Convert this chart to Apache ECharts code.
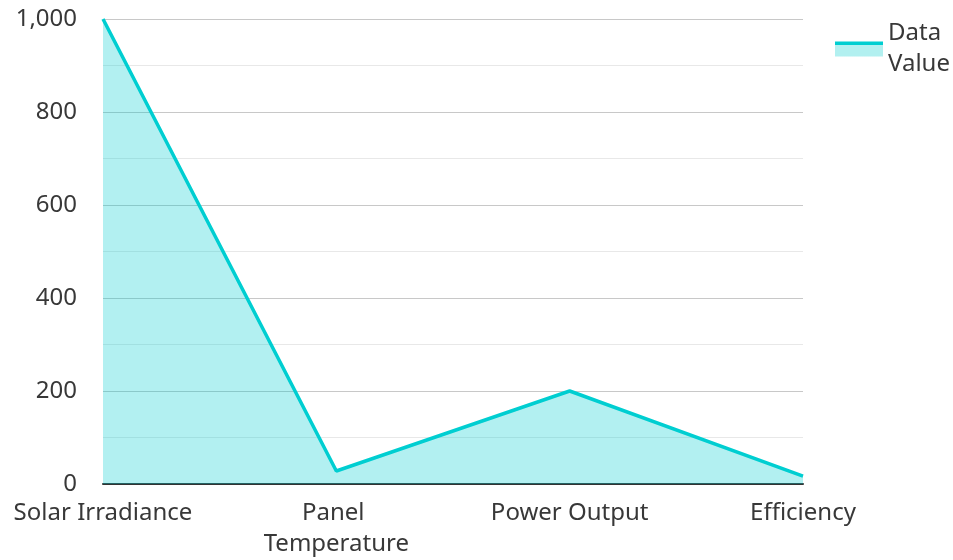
<!DOCTYPE html>
<html><head><meta charset="utf-8">
<script src="https://cdn.jsdelivr.net/npm/echarts@6/dist/echarts.min.js"></script>
<style>html,body{margin:0;padding:0;background:#fff;overflow:hidden}#c{width:953px;height:560px}</style>
</head><body><div id="c"></div>
<script>
const categories = ["Solar Irradiance", "Panel Temperature", "Power Output", "Efficiency"];
const values = [1000, 28, 200, 17];
const seriesName = "Data Value";
const yTicks = [0, 200, 400, 600, 800, 1000];

const chart = echarts.init(document.getElementById('c'), null, {renderer: 'canvas'});
const font = 'Noto Sans';
chart.setOption({
  animation: false,
  textStyle: {fontFamily: font},
  grid: {left: 102, width: 701, top: 19, height: 471, containLabel: false},
  legend: {
    left: 830, top: 13, orient: 'vertical',
    icon: 'rect', itemWidth: 48, itemHeight: 15, itemGap: 10,
    itemStyle: {
      color: new echarts.graphic.LinearGradient(0, 0, 0, 1, [
        {offset: 0, color: '#00CED1'}, {offset: 0.25, color: '#00CED1'},
        {offset: 0.25, color: '#B2F0F0'}, {offset: 1, color: '#B2F0F0'}])
    },
    textStyle: {fontFamily: font, fontSize: 24, color: '#383838', width: 66, overflow: 'break', lineHeight: 31},
    data: [seriesName]
  },
  xAxis: {
    type: 'category', data: categories, boundaryGap: false,
    axisLine: {lineStyle: {color: '#333', width: 2}},
    axisTick: {show: false},
    axisLabel: {interval: 0, fontFamily: font, fontSize: 24, color: '#383838', margin: 14, width: 200, overflow: 'break', lineHeight: 31}
  },
  yAxis: {
    type: 'value', min: yTicks[0], max: yTicks[yTicks.length - 1], interval: 200,
    axisLine: {show: false}, axisTick: {show: false},
    axisLabel: {fontFamily: font, fontSize: 24, color: '#383838', margin: 26,
      formatter: v => v.toLocaleString('en-US')},
    splitLine: {lineStyle: {color: '#c8c8c8', width: 1}},
    minorTick: {show: false, splitNumber: 2},
    minorSplitLine: {show: true, lineStyle: {color: '#e8e8e8', width: 1}}
  },
  series: [{
    name: seriesName, type: 'line', data: values,
    showSymbol: false, symbol: 'none',
    lineStyle: {color: '#00CED1', width: 3.5},
    itemStyle: {color: '#00CED1'},
    areaStyle: {color: '#00CED1', opacity: 0.3}
  }]
});
</script></body></html>
